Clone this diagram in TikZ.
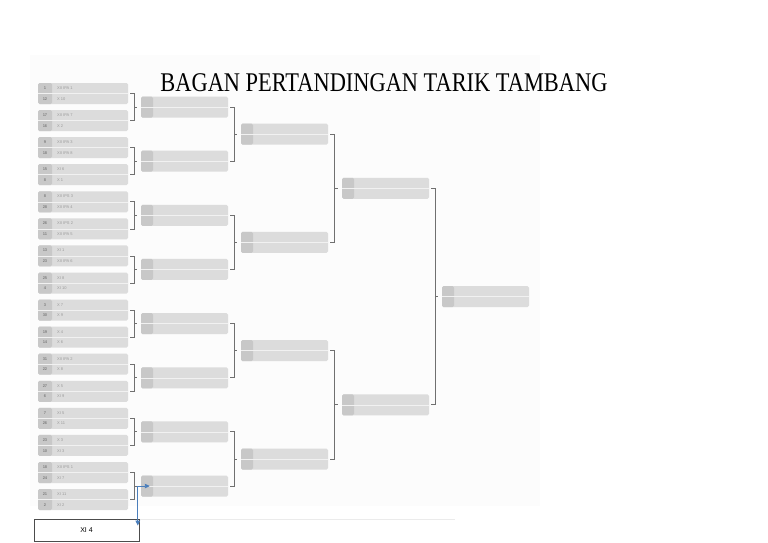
\documentclass[tikz,border=0pt]{standalone}
\usepackage{fontspec}
\setmainfont{Liberation Serif}
\setsansfont{Liberation Sans}
\usetikzlibrary{arrows.meta}
\definecolor{boxgray}{HTML}{DCDCDC}
\definecolor{numgray}{HTML}{C8C8C8}
\definecolor{seedgray}{HTML}{808080}
\definecolor{teamgray}{HTML}{9A9A9A}
\definecolor{brgray}{HTML}{707070}
\definecolor{bggray}{HTML}{FCFCFC}
\definecolor{linkblue}{HTML}{4A7EBB}
\begin{document}
\begin{tikzpicture}[x=1pt, y=-1pt,
    teambox/.style={rectangle, rounded corners=1.5pt, fill=boxgray, minimum height=21pt, inner sep=0pt,
      path picture={\fill[numgray] (path picture bounding box.north west) rectangle ([xshift=#1]path picture bounding box.south west);
        \draw[white!60!boxgray, line width=0.5pt] (path picture bounding box.west) -- (path picture bounding box.east);}},
    firstbox/.style={teambox=14pt, minimum width=90pt},
    roundbox/.style={teambox=12pt, minimum width=87pt},
    seed/.style={font=\sffamily\bfseries\fontsize{4}{4}\selectfont, text=seedgray, inner sep=0pt},
    team/.style={font=\sffamily\fontsize{4}{4}\selectfont, text=teamgray, anchor=west, inner sep=0pt},
    bracket/.style={draw=brgray, line width=0.8pt},
    link/.style={draw=linkblue, line width=0.9pt, -{Triangle[length=5pt,width=4.5pt]}}]
  \useasboundingbox (0,0) rectangle (768,543);
  \fill[bggray] (30,55) rectangle (540,506);
  \draw[black!8] (139,519) -- (455,519);

  \node[font=\fontsize{27}{27}\selectfont] (title) at (384,83) {\scalebox{0.83}[1]{BAGAN PERTANDINGAN TARIK TAMBANG}};

  % first round
  \node[firstbox] (p1) at (83, 93.5){};
    \node[seed] (s1a) at (45, 88.2){1};  \node[team] (t1a) at (57, 88.2){XII IPA 1};
    \node[seed] (s1b) at (45, 98.8){12}; \node[team] (t1b) at (57, 98.8){X 10};
  \node[firstbox] (p2) at (83, 120.6){};
    \node[seed] (s2a) at (45, 115.3){17}; \node[team] (t2a) at (57, 115.3){XII IPA 7};
    \node[seed] (s2b) at (45, 125.9){16}; \node[team] (t2b) at (57, 125.9){X 2};
  \node[firstbox] (p3) at (83, 147.6){};
    \node[seed] (s3a) at (45, 142.3){9};  \node[team] (t3a) at (57, 142.3){XII IPA 3};
    \node[seed] (s3b) at (45, 152.9){18}; \node[team] (t3b) at (57, 152.9){XII IPA 8};
  \node[firstbox] (p4) at (83, 174.7){};
    \node[seed] (s4a) at (45, 169.4){15}; \node[team] (t4a) at (57, 169.4){XI 6};
    \node[seed] (s4b) at (45, 180.0){8};  \node[team] (t4b) at (57, 180.0){X 1};
  \node[firstbox] (p5) at (83, 201.8){};
    \node[seed] (s5a) at (45, 196.5){8};  \node[team] (t5a) at (57, 196.5){XII IPS 3};
    \node[seed] (s5b) at (45, 207.1){28}; \node[team] (t5b) at (57, 207.1){XII IPA 4};
  \node[firstbox] (p6) at (83, 228.9){};
    \node[seed] (s6a) at (45, 223.6){26}; \node[team] (t6a) at (57, 223.6){XII IPS 2};
    \node[seed] (s6b) at (45, 234.2){11}; \node[team] (t6b) at (57, 234.2){XII IPA 5};
  \node[firstbox] (p7) at (83, 255.9){};
    \node[seed] (s7a) at (45, 250.6){13}; \node[team] (t7a) at (57, 250.6){XI 1};
    \node[seed] (s7b) at (45, 261.2){23}; \node[team] (t7b) at (57, 261.2){XII IPA 6};
  \node[firstbox] (p8) at (83, 283.0){};
    \node[seed] (s8a) at (45, 277.7){25}; \node[team] (t8a) at (57, 277.7){XI 8};
    \node[seed] (s8b) at (45, 288.3){4};  \node[team] (t8b) at (57, 288.3){XI 10};
  \node[firstbox] (p9) at (83, 310.1){};
    \node[seed] (s9a) at (45, 304.8){3};  \node[team] (t9a) at (57, 304.8){X 7};
    \node[seed] (s9b) at (45, 315.4){30}; \node[team] (t9b) at (57, 315.4){X 9};
  \node[firstbox] (p10) at (83, 337.1){};
    \node[seed] (s10a) at (45, 331.8){19}; \node[team] (t10a) at (57, 331.8){X 4};
    \node[seed] (s10b) at (45, 342.4){14}; \node[team] (t10b) at (57, 342.4){X 6};
  \node[firstbox] (p11) at (83, 364.2){};
    \node[seed] (s11a) at (45, 358.9){31}; \node[team] (t11a) at (57, 358.9){XII IPA 2};
    \node[seed] (s11b) at (45, 369.5){22}; \node[team] (t11b) at (57, 369.5){X 8};
  \node[firstbox] (p12) at (83, 391.3){};
    \node[seed] (s12a) at (45, 386.0){27}; \node[team] (t12a) at (57, 386.0){X 5};
    \node[seed] (s12b) at (45, 396.6){6};  \node[team] (t12b) at (57, 396.6){XI 9};
  \node[firstbox] (p13) at (83, 418.3){};
    \node[seed] (s13a) at (45, 413.0){7};  \node[team] (t13a) at (57, 413.0){XI 5};
    \node[seed] (s13b) at (45, 423.6){26}; \node[team] (t13b) at (57, 423.6){X 11};
  \node[firstbox] (p14) at (83, 445.4){};
    \node[seed] (s14a) at (45, 440.1){23}; \node[team] (t14a) at (57, 440.1){X 3};
    \node[seed] (s14b) at (45, 450.7){10}; \node[team] (t14b) at (57, 450.7){XI 3};
  \node[firstbox] (p15) at (83, 472.5){};
    \node[seed] (s15a) at (45, 467.2){18}; \node[team] (t15a) at (57, 467.2){XII IPS 1};
    \node[seed] (s15b) at (45, 477.8){24}; \node[team] (t15b) at (57, 477.8){XI 7};
  \node[firstbox] (p16) at (83, 499.6){};
    \node[seed] (s16a) at (45, 494.3){21}; \node[team] (t16a) at (57, 494.3){XI 11};
    \node[seed] (s16b) at (45, 504.9){2};  \node[team] (t16b) at (57, 504.9){XI 2};

  % second round
  \node[roundbox] (q1) at (184.5, 107.05){};
  \node[roundbox] (q2) at (184.5, 161.15){};
  \node[roundbox] (q3) at (184.5, 215.35){};
  \node[roundbox] (q4) at (184.5, 269.45){};
  \node[roundbox] (q5) at (184.5, 323.6){};
  \node[roundbox] (q6) at (184.5, 377.75){};
  \node[roundbox] (q7) at (184.5, 431.85){};
  \node[roundbox] (q8) at (184.5, 486.05){};

  % third round
  \node[roundbox] (r1) at (284.5, 134.1){};
  \node[roundbox] (r2) at (284.5, 242.4){};
  \node[roundbox] (r3) at (284.5, 350.7){};
  \node[roundbox] (r4) at (284.5, 459.0){};

  % semi final and final
  \node[roundbox] (u1) at (385.5, 188.25){};
  \node[roundbox] (u2) at (385.5, 404.85){};
  \node[roundbox] (w) at (485.5, 296.55){};

  % brackets
  \draw[bracket] ([xshift=2pt]p1.east) -- ++(4,0) |- ([xshift=2pt]p2.east);
    \draw[bracket] ([xshift=6pt]p1.east |- q1.west) -- ([xshift=-4pt]q1.west);
  \draw[bracket] ([xshift=2pt]p3.east) -- ++(4,0) |- ([xshift=2pt]p4.east);
    \draw[bracket] ([xshift=6pt]p3.east |- q2.west) -- ([xshift=-4pt]q2.west);
  \draw[bracket] ([xshift=2pt]p5.east) -- ++(4,0) |- ([xshift=2pt]p6.east);
    \draw[bracket] ([xshift=6pt]p5.east |- q3.west) -- ([xshift=-4pt]q3.west);
  \draw[bracket] ([xshift=2pt]p7.east) -- ++(4,0) |- ([xshift=2pt]p8.east);
    \draw[bracket] ([xshift=6pt]p7.east |- q4.west) -- ([xshift=-4pt]q4.west);
  \draw[bracket] ([xshift=2pt]p9.east) -- ++(4,0) |- ([xshift=2pt]p10.east);
    \draw[bracket] ([xshift=6pt]p9.east |- q5.west) -- ([xshift=-4pt]q5.west);
  \draw[bracket] ([xshift=2pt]p11.east) -- ++(4,0) |- ([xshift=2pt]p12.east);
    \draw[bracket] ([xshift=6pt]p11.east |- q6.west) -- ([xshift=-4pt]q6.west);
  \draw[bracket] ([xshift=2pt]p13.east) -- ++(4,0) |- ([xshift=2pt]p14.east);
    \draw[bracket] ([xshift=6pt]p13.east |- q7.west) -- ([xshift=-4pt]q7.west);
  \draw[bracket] ([xshift=2pt]p15.east) -- ++(4,0) |- ([xshift=2pt]p16.east);
    \coordinate (hub) at ([xshift=-4pt]q8.west);
    \draw[bracket] ([xshift=6pt]p15.east |- q8.west) -- (hub);

  \draw[bracket] ([xshift=2pt]q1.east) -- ++(4,0) |- ([xshift=2pt]q2.east);
    \draw[bracket] ([xshift=6pt]q1.east |- r1.west) -- ([xshift=-4pt]r1.west);
  \draw[bracket] ([xshift=2pt]q3.east) -- ++(4,0) |- ([xshift=2pt]q4.east);
    \draw[bracket] ([xshift=6pt]q3.east |- r2.west) -- ([xshift=-4pt]r2.west);
  \draw[bracket] ([xshift=2pt]q5.east) -- ++(4,0) |- ([xshift=2pt]q6.east);
    \draw[bracket] ([xshift=6pt]q5.east |- r3.west) -- ([xshift=-4pt]r3.west);
  \draw[bracket] ([xshift=2pt]q7.east) -- ++(4,0) |- ([xshift=2pt]q8.east);
    \draw[bracket] ([xshift=6pt]q7.east |- r4.west) -- ([xshift=-4pt]r4.west);

  \draw[bracket] ([xshift=2pt]r1.east) -- ++(4,0) |- ([xshift=2pt]r2.east);
    \draw[bracket] ([xshift=6pt]r1.east |- u1.west) -- ([xshift=-4pt]u1.west);
  \draw[bracket] ([xshift=2pt]r3.east) -- ++(4,0) |- ([xshift=2pt]r4.east);
    \draw[bracket] ([xshift=6pt]r3.east |- u2.west) -- ([xshift=-4pt]u2.west);

  \draw[bracket] ([xshift=2pt]u1.east) -- ++(4,0) |- ([xshift=2pt]u2.east);
    \draw[bracket] ([xshift=6pt]u1.east |- w.west) -- ([xshift=-4pt]w.west);

  % extra team
  \node[draw=black!70, line width=0.8pt, fill=white, minimum width=105pt, minimum height=22pt,
    font=\sffamily\fontsize{7}{7}\selectfont] (x4) at (86.5, 530){XI 4};
  \coordinate (drop) at (hub |- x4.north);
  \draw[link] ([xshift=1pt]hub) -- ([xshift=9pt]q8.west);
  \draw[link] ([xshift=1pt]hub) -- ([xshift=1pt, yshift=-7pt]drop);
\end{tikzpicture}
\end{document}
